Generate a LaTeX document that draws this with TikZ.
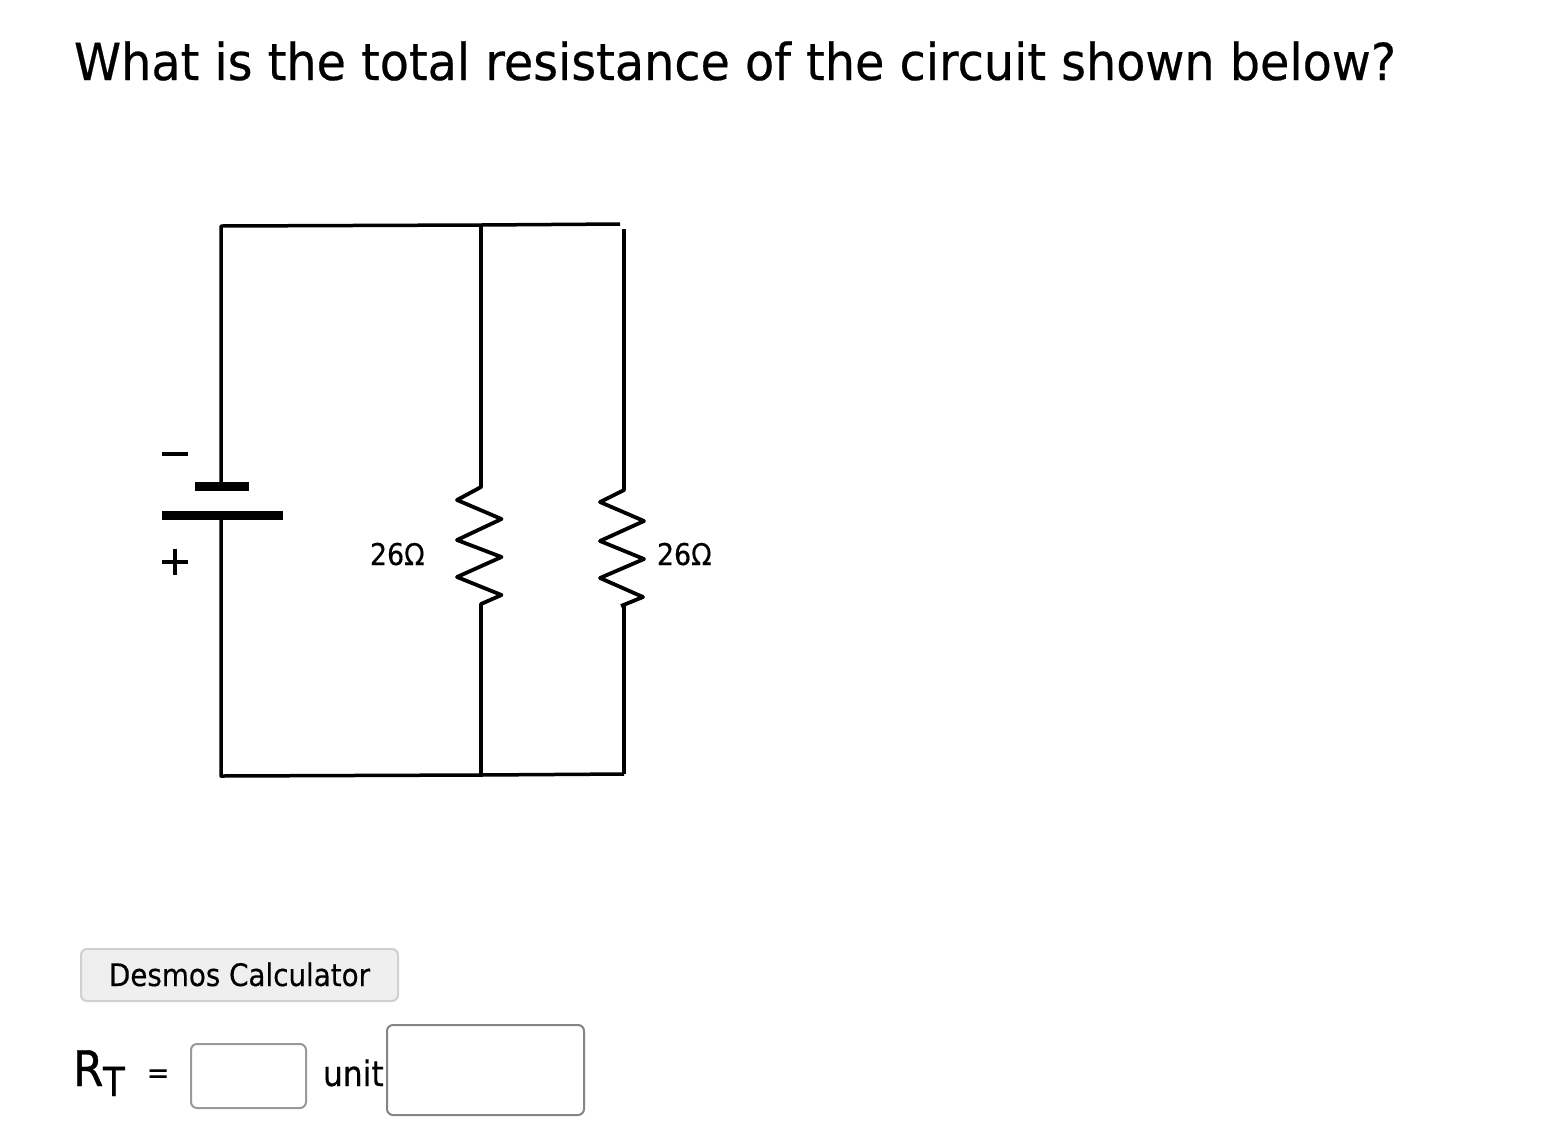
\documentclass[tikz,border=0pt]{standalone}
\usepackage{fontspec}
\setmainfont{DejaVu Sans}
\newfontfamily\titlefont[FakeStretch=0.935,FakeBold=0.4]{DejaVu Sans}
\newfontfamily\smallfont[FakeStretch=0.895,FakeBold=0.3]{DejaVu Sans}
\newfontfamily\mathfont[FakeStretch=0.895,FakeBold=0.7]{DejaVu Sans}
\definecolor{btnfill}{HTML}{EFEFEF}
\definecolor{btnline}{HTML}{D0D0D0}
\definecolor{boxa}{HTML}{999999}
\definecolor{boxb}{HTML}{858585}
\tikzset{
  wire/.style={line width=3.5pt,black,line join=round},
  zigzag/.style={line width=3.8pt,black,line join=round},
  plate/.style={draw=none,fill=black,inner sep=0pt,minimum height=9pt},
  sign/.style={line width=4pt,black},
  label/.style={anchor=base west,inner sep=0pt,outer sep=0pt,text=black},
  inputbox/.style={rounded corners=6pt,line width=2pt,fill=white,inner sep=0pt}
}
\begin{document}
\begin{tikzpicture}[x=1pt,y=-1pt]
\useasboundingbox (0,0) rectangle (1558,1144);
\fill[white] (0,0) rectangle (1558,1144);
\node[label,font=\titlefont\fontsize{51}{60}\selectfont] (title) at (74,80) {What is the total resistance of the circuit shown below?};
% corners
\coordinate (tl) at (221,226);
\coordinate (tm) at (481,225);
\coordinate (tr) at (620,224);
\coordinate (trw) at (624,229);
\coordinate (bl) at (221,776);
\coordinate (bm) at (481,775);
\coordinate (br) at (624,774);
% battery
\node[plate,minimum width=54pt] (bneg) at (222,486.5) {};
\node[plate,minimum width=121pt] (bpos) at (222.5,515) {};
\draw[wire] (bneg.north -| tl) -- (tl) -- (tm) -- (tr);
\draw[wire] (bpos.south -| bl) -- (bl) -- (bm) -- (br);
\draw[sign] (162,453.5) coordinate (m1) -- (188,453.5) coordinate (m2);
\draw[sign] (162,561.5) coordinate (p1) -- (188,561.5) coordinate (p2);
\draw[sign] (175,548.5) coordinate (p3) -- (175,575) coordinate (p4);
% resistor 1
\draw[zigzag] (tm) -- (481,487) -- (457,500) -- (501.5,519) -- (457,540) -- (501.5,557) -- (457,577) -- (501.5,595) -- (481,604) -- (bm);
% resistor 2
\draw[zigzag] (trw) -- (624,490) -- (600,502) -- (644,521) -- (600,541) -- (644,559) -- (600,578) -- (643,597) -- (621,606);
\draw[zigzag] (624,606) -- (br);
% labels
\node[label,font=\smallfont\fontsize{30}{36}\selectfont] (r1) at (370,565) {26Ω};
\node[label,font=\smallfont\fontsize{30}{36}\selectfont] (r2) at (657,565) {26Ω};
% button
\draw[fill=btnfill,draw=btnline,line width=2pt,rounded corners=6pt] (81,949) rectangle (398,1001);
\node[label,font=\smallfont\fontsize{31}{38}\selectfont] (desmos) at (109,986) {Desmos Calculator};
% answer row
\node[label,font=\mathfont\fontsize{49}{56}\selectfont] (rt) at (73,1086) {R};
\node[label,font=\mathfont\fontsize{40}{48}\selectfont] (rts) at (103,1096) {T};
\node[label,font=\mathfont\fontsize{30}{36}\selectfont] (eq) at (147,1083) {=};
\draw[inputbox,draw=boxa] (191,1044) rectangle (306,1108);
\node[label,font=\smallfont\fontsize{35}{40}\selectfont] (unit) at (323,1086) {unit};
\draw[inputbox,draw=boxb] (387,1025) rectangle (584,1115);
\end{tikzpicture}
\end{document}
